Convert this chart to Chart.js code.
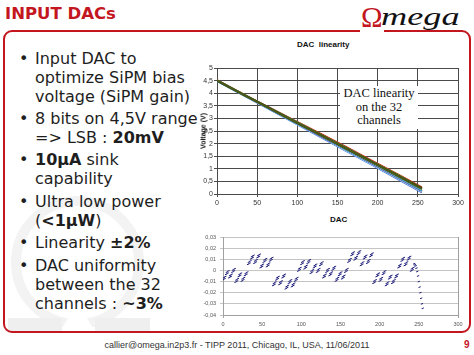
<!DOCTYPE html>
<html>
<head>
<meta charset="utf-8">
<script src="https://cdn.jsdelivr.net/npm/chart.js@4/dist/chart.umd.min.js"></script>
<style>
html,body{margin:0;padding:0;}
body{width:474px;height:355px;position:relative;overflow:hidden;background:#fff;font-family:"DejaVu Sans",sans-serif;}
.abs{position:absolute;white-space:nowrap;}
.bl{position:absolute;left:35px;font-size:16px;line-height:20px;color:#1e1e1e;white-space:nowrap;font-family:"DejaVu Sans",sans-serif;}
.dot{position:absolute;left:19px;font-size:16px;line-height:20px;color:#1e1e1e;}
canvas{position:absolute;}
</style>
</head>
<body>
<!-- watermark -->
<div class="abs" style="left:11px;top:196px;width:113px;height:113px;border:10px solid #f3f3f3;border-radius:50%;clip-path:polygon(0 0,100% 0,100% 100%,62% 100%,50% 80%,38% 100%,0 100%);"></div>
<div class="abs" style="left:8px;top:318px;width:54px;height:13px;background:#efefef;"></div>
<div class="abs" style="left:95px;top:318px;width:55px;height:13px;background:#efefef;"></div>

<!-- frame -->
<div class="abs" style="left:3px;top:30px;width:464px;height:299px;border:2.5px solid #c3161f;border-radius:9px;"></div>
<div class="abs" style="left:5px;top:4px;font-size:16.5px;font-weight:bold;color:#c3161f;font-family:'DejaVu Sans',sans-serif;">INPUT DACs</div>
<div class="abs" style="left:360px;top:2px;font-size:29px;color:#c3161f;font-family:'Liberation Serif',serif;background:#fff;line-height:31px;padding:0 1px;">Ω</div>
<div class="abs" style="left:381px;top:3px;font-size:25px;color:#111;font-family:'Liberation Serif',serif;font-style:italic;transform:scaleX(1.45);transform-origin:left top;">mega</div>

<!-- bullets -->
<div class="dot" style="top:49px">•</div>
<div class="bl" style="top:49px">Input DAC to</div>
<div class="bl" style="top:68px">optimize SiPM bias</div>
<div class="bl" style="top:87px">voltage (SiPM gain)</div>
<div class="dot" style="top:109px">•</div>
<div class="bl" style="top:109px">8 bits on 4,5V range</div>
<div class="bl" style="top:128px">=&gt; LSB : <b>20mV</b></div>
<div class="dot" style="top:150px">•</div>
<div class="bl" style="top:150px"><b>10µA</b> sink</div>
<div class="bl" style="top:169px">capability</div>
<div class="dot" style="top:192px">•</div>
<div class="bl" style="top:192px">Ultra low power</div>
<div class="bl" style="top:211px">(<b>&lt;1µW</b>)</div>
<div class="dot" style="top:233px">•</div>
<div class="bl" style="top:233px">Linearity <b>±2%</b></div>
<div class="dot" style="top:256px">•</div>
<div class="bl" style="top:256px">DAC uniformity</div>
<div class="bl" style="top:275px">between the 32</div>
<div class="bl" style="top:294px">channels : <b>~3%</b></div>

<!-- chart titles -->
<div class="abs" style="left:297px;top:40px;font-size:8px;font-weight:bold;font-family:'Liberation Sans',Arial,sans-serif;color:#111;">DAC&nbsp; linearity</div>
<div class="abs" style="left:330px;top:215px;font-size:8px;font-weight:bold;font-family:'Liberation Sans',Arial,sans-serif;color:#111;">DAC</div>

<canvas id="top" width="274" height="168" style="left:196px;top:40px;"></canvas>
<canvas id="bot" width="270" height="104" style="left:200px;top:225px;"></canvas>

<div class="abs" style="top:131px;font-size:7px;font-weight:bold;font-family:'Liberation Sans',Arial,sans-serif;color:#111;transform:translate(-50%,-50%) rotate(-90deg);transform-origin:center;left:203px;">Voltage (V)</div>

<div class="abs" style="left:340px;top:86px;width:78px;height:42px;background:#fff;font-family:'Liberation Serif',serif;font-size:12.5px;line-height:13.5px;text-align:center;color:#111;padding-top:1px;">DAC linearity<br>on the 32<br>channels</div>

<!-- footer -->
<div class="abs" style="left:0;width:474px;top:340px;text-align:center;font-size:9px;font-family:'Liberation Sans',Arial,sans-serif;color:#333;">callier@omega.in2p3.fr - TIPP 2011, Chicago, IL, USA, 11/06/2011</div>
<div class="abs" style="left:464px;top:339px;font-size:10px;font-weight:bold;font-family:'Liberation Sans',Arial,sans-serif;color:#c3161f;">9</div>

<script>
// ---------- DATA ----------
const dacCodes = [0, 32, 64, 96, 128, 160, 192, 224, 255];
const ch01 = [4.50,3.96,3.42,2.89,2.35,1.82,1.28,0.74,0.21];
const ch02 = [4.50,3.96,3.43,2.89,2.36,1.82,1.29,0.75,0.23];
const ch03 = [4.49,3.95,3.42,2.88,2.35,1.81,1.28,0.74,0.20];
const ch04 = [4.51,3.97,3.43,2.90,2.36,1.83,1.29,0.76,0.22];
const ch05 = [4.50,3.96,3.42,2.89,2.35,1.82,1.28,0.74,0.21];
const ch06 = [4.49,3.96,3.43,2.89,2.36,1.83,1.29,0.75,0.22];
const ch07 = [4.50,3.97,3.43,2.90,2.37,1.84,1.30,0.77,0.23];
const ch08 = [4.51,3.97,3.44,2.91,2.39,1.86,1.32,0.78,0.25];
const ch09 = [4.52,3.98,3.45,2.92,2.41,1.88,1.34,0.80,0.27];
const ch10 = [4.50,3.96,3.42,2.88,2.35,1.81,1.27,0.73,0.19];
const ch11 = [4.51,3.96,3.42,2.88,2.34,1.80,1.26,0.72,0.17];
const ch12 = [4.50,3.95,3.41,2.87,2.33,1.78,1.24,0.69,0.14];
const ch13 = [4.49,3.95,3.40,2.86,2.31,1.77,1.22,0.67,0.12];
const ch14 = [4.50,3.94,3.40,2.85,2.30,1.75,1.20,0.65,0.10];
const ch15 = [4.48,3.94,3.39,2.84,2.29,1.74,1.19,0.64,0.09];
const ch16 = [4.49,3.93,3.38,2.83,2.27,1.72,1.17,0.61,0.06];
// first colour is drawn on top
const channelColors = ['#4d5a1a','#333300','#336633','#339966','#666699','#008080','#99CC00','#993300','#CC3333','#FFFF66','#3366FF','#33CCCC','#800080','#CCFFFF','#00CCFF','#6666cc'];

// residuals (V) for DAC codes 0..255
const res000 = [-0.0085,-0.0065,-0.0075,-0.0055,-0.0035,-0.0015,-0.0025,-0.0005,-0.0065,-0.0045,-0.0055,-0.0035,-0.0015,0.0005,-0.0005,0.0015,-0.0105,-0.0085,-0.0095,-0.0075,-0.0055,-0.0035,-0.0045,-0.0025,-0.0095,-0.0075,-0.0085,-0.0065,-0.0045,-0.0025,-0.0035,-0.0015];
const res032 = [0.0055,0.0075,0.0065,0.0085,0.0105,0.0125,0.0115,0.0135,0.0065,0.0085,0.0075,0.0095,0.0115,0.0135,0.0125,0.0145,0.0025,0.0045,0.0035,0.0055,0.0075,0.0095,0.0085,0.0105,0.0035,0.0055,0.0045,0.0065,0.0085,0.0105,0.0095,0.0115];
const res064 = [-0.0135,-0.0115,-0.0125,-0.0105,-0.0085,-0.0065,-0.0075,-0.0055,-0.0125,-0.0105,-0.0115,-0.0095,-0.0065,-0.0045,-0.0055,-0.0035,-0.0165,-0.0145,-0.0155,-0.0135,-0.0115,-0.0095,-0.0105,-0.0085,-0.0145,-0.0125,-0.0135,-0.0115,-0.0095,-0.0075,-0.0085,-0.0065];
const res096 = [-0.0005,0.0015,0.0005,0.0025,0.0055,0.0075,0.0065,0.0085,0.0015,0.0035,0.0025,0.0045,0.0065,0.0085,0.0075,0.0095,-0.0025,-0.0005,-0.0015,0.0005,0.0025,0.0045,0.0035,0.0055,-0.0015,0.0005,-0.0005,0.0015,0.0045,0.0065,0.0055,0.0075];
const res128 = [-0.0065,-0.0045,-0.0055,-0.0035,-0.0015,0.0005,-0.0005,0.0015,-0.0045,-0.0025,-0.0035,-0.0015,0.0005,0.0025,0.0015,0.0035,-0.0095,-0.0075,-0.0085,-0.0065,-0.0045,-0.0025,-0.0035,-0.0015,-0.0075,-0.0055,-0.0065,-0.0045,-0.0015,0.0005,-0.0005,0.0015];
const res160 = [0.0075,0.0095,0.0085,0.0105,0.0135,0.0155,0.0145,0.0165,0.0095,0.0115,0.0105,0.0125,0.0145,0.0165,0.0155,0.0175,0.0045,0.0065,0.0055,0.0075,0.0105,0.0125,0.0115,0.0135,0.0065,0.0085,0.0075,0.0095,0.0125,0.0145,0.0135,0.0155];
const res192 = [-0.0115,-0.0095,-0.0105,-0.0085,-0.0055,-0.0035,-0.0045,-0.0025,-0.0095,-0.0075,-0.0085,-0.0065,-0.0035,-0.0015,-0.0025,-0.0005,-0.0135,-0.0115,-0.0125,-0.0105,-0.0075,-0.0055,-0.0065,-0.0045,-0.0115,-0.0095,-0.0105,-0.0085,-0.0065,-0.0045,-0.0055,-0.0035];
const res224 = [0.0025,0.0045,0.0035,0.0055,0.0085,0.0105,0.0095,0.0115,0.0045,0.0065,0.0055,0.0075,0.0095,0.0115,0.0105,0.0125,-0.0005,0.0015,0.0005,0.0025,0.0060,0.0050,0.0040,0.0020,-0.0010,-0.0050,-0.0100,-0.0150,-0.0200,-0.0250,-0.0300,-0.0340];

const topXTicks = [0,50,100,150,200,250,300];

// ---------- BUILD ----------
const channels = [ch01,ch02,ch03,ch04,ch05,ch06,ch07,ch08,ch09,ch10,ch11,ch12,ch13,ch14,ch15,ch16];
const comma = v => (Math.abs(v) < 1e-9 ? '0' : String(+v.toFixed(2)).replace('.', ','));

new Chart(document.getElementById('top'), {
  type: 'line',
  data: {
    datasets: channels.map((arr, i) => ({
      data: arr.map((v, k) => ({x: dacCodes[k], y: v})),
      borderColor: channelColors[i],
      borderWidth: 1.8,
      pointRadius: 0,
      tension: 0
    }))
  },
  options: {
    responsive: false, animation: false, devicePixelRatio: 1,
    layout: {padding: {top: 28, right: 12, left: 0, bottom: 0}},
    plugins: {legend: {display: false}, tooltip: {enabled: false}},
    scales: {
      x: {
        type: 'linear', min: 0, max: 300,
        afterFit: s => { s.height = 14; },
        afterBuildTicks: s => { s.ticks = topXTicks.map(v => ({value: v})); },
        ticks: {font: {size: 7, family: 'Liberation Sans'}, color: '#333', padding: 2, maxRotation: 0},
        grid: {color: '#4a4a4a', lineWidth: 1, tickLength: 3},
        border: {color: '#4a4a4a'}
      },
      y: {
        min: 0, max: 5,
        afterFit: s => { s.width = 21; },
        ticks: {stepSize: 0.5, font: {size: 7, family: 'Liberation Sans'}, color: '#333', padding: 1, callback: v => comma(v)},
        grid: {color: '#4a4a4a', lineWidth: 1, tickLength: 3},
        border: {color: '#4a4a4a'}
      }
    }
  }
});

const residuals = [].concat(res000,res032,res064,res096,res128,res160,res192,res224);
new Chart(document.getElementById('bot'), {
  type: 'scatter',
  data: {
    datasets: [{
      data: residuals.map((v, i) => ({x: i, y: v})),
      pointStyle: 'line',
      pointRadius: 1.2,
      borderWidth: 1,
      borderColor: '#1c1c7a',
      backgroundColor: '#1c1c7a',
      rotation: -20
    }]
  },
  options: {
    responsive: false, animation: false, devicePixelRatio: 1,
    layout: {padding: {top: 12, right: 12, left: 0, bottom: 0}},
    plugins: {legend: {display: false}, tooltip: {enabled: false}},
    scales: {
      x: {
        type: 'linear', min: 0, max: 300,
        afterFit: s => { s.height = 14; },
        afterBuildTicks: s => { s.ticks = topXTicks.map(v => ({value: v})); },
        ticks: {font: {size: 5.5, family: 'Liberation Sans'}, color: '#555', padding: 3, maxRotation: 0},
        grid: {color: c => (c.tick && (c.tick.value === 300 || c.tick.value === 0)) ? '#a0a0a0' : 'rgba(0,0,0,0)', tickLength: 3},
        border: {color: '#a0a0a0'}
      },
      y: {
        min: -0.04, max: 0.03,
        afterFit: s => { s.width = 23; },
        ticks: {stepSize: 0.01, font: {size: 5.5, family: 'Liberation Sans'}, color: '#555', padding: 4, callback: v => comma(v)},
        grid: {color: '#c4c4c4', lineWidth: 1, tickLength: 3},
        border: {color: '#a0a0a0'}
      }
    }
  }
});
</script>
</body>
</html>
